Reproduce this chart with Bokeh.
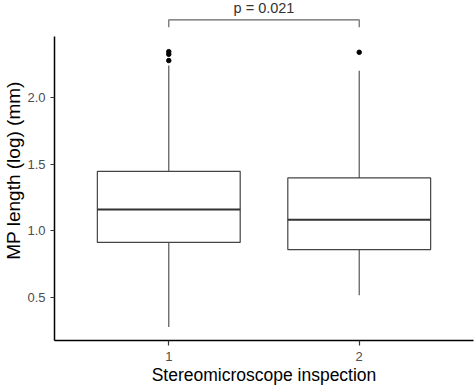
from bokeh.plotting import figure
from bokeh.models import Range1d, FixedTicker, Label, ColumnDataSource
from bokeh.embed import file_html
from bokeh.resources import INLINE

# ---- data ----
groups = ["1", "2"]
q1 = [0.913, 0.859]
median = [1.160, 1.083]
q3 = [1.445, 1.396]
whisker_low = [0.280, 0.517]
whisker_high = [2.238, 2.198]
outlier_group = ["1", "1", "1", "2"]
outlier_value = [2.275, 2.322, 2.342, 2.337]
y_ticks = [0.5, 1.0, 1.5, 2.0]
p_label = "p = 0.021"
x_title = "Stereomicroscope inspection"
y_title = "MP length (log) (mm)"

FONT = "Liberation Sans"

xpos = [i + 1 for i in range(len(groups))]
gpos = {g: i + 1 for i, g in enumerate(groups)}

p = figure(width=474, height=387, output_backend="svg", toolbar_location=None,
           x_range=Range1d(0.4, 2.6), y_range=Range1d(0.178, 2.725),
           min_border_left=54, min_border_right=1, min_border_top=0, min_border_bottom=47)
p.background_fill_color = "white"
p.border_fill_color = "white"
p.outline_line_color = None
p.xgrid.visible = False
p.ygrid.visible = False

src = ColumnDataSource(dict(x=xpos, q1=q1, q3=q3, lo=whisker_low, hi=whisker_high))

# whiskers
p.segment(x0="x", y0="q3", x1="x", y1="hi", source=src, line_color="#555555", line_width=1.2)
p.segment(x0="x", y0="lo", x1="x", y1="q1", source=src, line_color="#555555", line_width=1.2)
# boxes
p.vbar(x="x", width=0.75, bottom="q1", top="q3", source=src,
       fill_color="white", line_color="#444444", line_width=1.2)
# medians
w = 0.375
src_m = ColumnDataSource(dict(x0=[x - w for x in xpos], x1=[x + w for x in xpos], y=median))
p.segment(x0="x0", y0="y", x1="x1", y1="y", source=src_m, line_color="#333333", line_width=2)
# outliers
p.scatter(x=[gpos[g] for g in outlier_group], y=outlier_value, size=4.5,
          fill_color="black", line_color="black")

# significance bracket
bx0, bx1 = gpos["1"], gpos["2"]
p.line(x=[bx0, bx0, bx1, bx1], y=[2.525, 2.580, 2.580, 2.525], line_color="#666666", line_width=1.2)
p.add_layout(Label(x=(bx0 + bx1) / 2, y=2.672, text=p_label, text_align="center",
                   text_baseline="middle", text_font=FONT, text_font_size="14.5px",
                   text_color="#333333"))

# axes
for ax in (p.xaxis[0], p.yaxis[0]):
    ax.axis_line_color = "black"
    ax.axis_line_width = 1.5
    ax.major_tick_line_color = "#333333"
    ax.major_tick_line_width = 1.2
    ax.major_tick_out = 5
    ax.major_tick_in = 0
    ax.minor_tick_line_color = None
    ax.major_label_text_font = FONT
    ax.major_label_text_font_size = "13px"
    ax.major_label_text_color = "#4D4D4D"
    ax.axis_label_text_font = FONT
    ax.axis_label_text_font_style = "normal"
    ax.axis_label_text_color = "black"

p.yaxis.ticker = FixedTicker(ticks=y_ticks)
p.yaxis.major_label_overrides = {t: f"{t:.1f}" for t in y_ticks}
p.yaxis.bounds = (0.178, 2.455)
p.yaxis.major_tick_out = 4
p.yaxis.major_label_standoff = 5
p.yaxis.axis_label = y_title
p.yaxis.axis_label_text_font_size = "19px"
p.yaxis.axis_label_standoff = 0

p.xaxis.ticker = FixedTicker(ticks=xpos)
p.xaxis.major_label_overrides = {x: g for x, g in zip(xpos, groups)}
p.xaxis.major_label_standoff = 6
p.xaxis.axis_label = x_title
p.xaxis.axis_label_text_font_size = "17.5px"
p.xaxis.axis_label_standoff = 1

open("out.html", "w").write(file_html(p, INLINE))
